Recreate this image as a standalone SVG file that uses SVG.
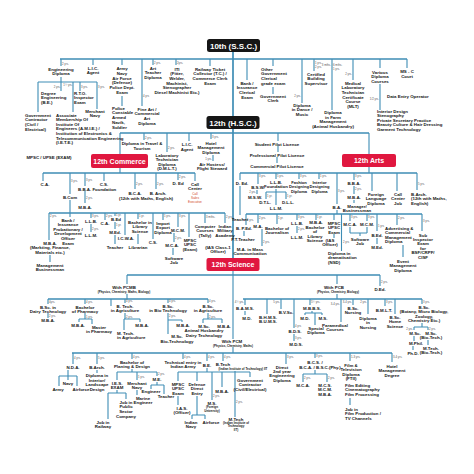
<svg xmlns="http://www.w3.org/2000/svg" width="474" height="474" viewBox="0 0 474 474">
<style>
text{font-family:"Liberation Sans",Arial,sans-serif}
.c{fill:none;stroke:#3f8db5;stroke-width:1.1}
.k{stroke-width:1.7}
.n{font-size:4.4px;font-weight:bold;fill:#141414;text-anchor:middle}
.s{text-anchor:start}
.y{font-size:2.8px;fill:#555;text-anchor:start}
.e{text-anchor:end}
.m{font-size:3px}
.nn{font-size:4.1px}
.r{fill:#d2461e;font-size:3.2px;font-weight:normal}
.bt{fill:#fff;font-weight:bold;text-anchor:middle}
.dk{fill:#161616}
.rd{fill:#e0173f}
</style>
<rect width="474" height="474" fill="#fff"/>
<g id="connectors">
<path class="c k" d="M60,59H407M233,52V116M120,133H369M233,129V258M43,173H195M240,173H417M49,213H225M246,214H422M127,275H380M48,299H208M243,299H422M72,353H392"/>
<path class="c" d="M61,59V66M61,77V82M38,82H97M38,82V112M61,82V91M73,82V112M80,82V91M97,82V109M93,59V65M122,59V65M122,96V106M142,59V106M153,59V65M176,59V65M210,59V66M247,59V80M273,59V66M273,87V94M302,59V103M314,59V71M332,59V110M353,59V80M380,59V68M380,84V110M407,59V68"/>
<path class="c" d="M120,133V154M144,133V140M167,133V152M189,133V141M211,133V139M213,155V161M278,133V141M278,146V152M277,157V163M369,133V154"/>
<path class="c" d="M120,168V173M43,173V181M70,173V194M85,173V186M85,191V203M104,173V181M135,173V189M156,173V189M178,173V180M195,173V181M70,200V213M49,213V240M50,255V262M70,213V217M91,213V218M91,224V232M105,213V220M115,213V216M115,222V229M115,235V244M125,213V235M138,213V219M138,234V244M153,213V239M163,213V220M178,213V227M174,233V242M173,248V255M189,213V237M205,213V223M225,213V223"/>
<path class="c" d="M369,167V173M240,173V180M240,186V215M258,173V184M257,190V194M276,173V179M276,189V205M266,192H286M266,192V199M286,192V199M299,173V179M319,173V179M337,173V204M337,210V214M354,173V180M354,186V194M354,200V203M372,173V191M397,173V191M417,173V190"/>
<path class="c" d="M246,214V225M244,231V236M258,214V223M262,229V246M277,214V224M297,214V220M297,226V233M316,214V220M334,214V220M334,234V238M341.5,214V251M350,214V221M367,214V221M350,227V233M367,227V233M350,233H367M360,233V236M377,214V231M377,238V244M397,214V225M403,245V257M422,214V231"/>
<path class="c" d="M233,271V339M127,275V284M127,294V299M380,275V286M337,275V284M337,294V299"/>
<path class="c" d="M48,299V304M48,313V318M85,299V304M85,313V319M79,319H92M79,319V322M92,319V324M111,299V306M125,299V303M125,313V319M124,319H140M124,319V330M140,319V322M168,299V303M168,313V334M168,320H182M182,320V322M208,299V303M208,313V319M203,319H222M203,319V323M222,319V323"/>
<path class="c" d="M245,299V305M245,311V315M267,299V314M281,299V309M294,299V328M294,334V341M310,299V305M312,311V313M305,313H322M305,313V315M322,313V315M315,313V325M341,299V322M353,299V305M368,299V314M385,299V306M395,299V314M422,299V304M422,323V327M414,327H428M414,327V330M428,327V330M414,336V341M428,340V345M413,346V350"/>
<path class="c" d="M233,347V353M73,353V364M68,370V380M59,376H77M59,376V386M77,376V386M97,353V364M97,370V373M132,353V359M132,369V372M117,372H157M117,372V380M117,390V393M108,393H126M108,393V419M126,393V399M137,372V380M137,390V395M157,372V376M157,382V385M151,385H164M151,385V389M164,385V394M183,353V359M207,353V361M207,368V372M178,372H250M178,372V381M178,396V405M197,372V381M197,396V415M192,415H205M192,415V419M205,415V419M212,372V400M222,372V387M250,372V377M223,353V361M235,371V417M286,353V364M315,353V358M315,370V374M303,374H327M303,374V382M327,374V382M350,353V361M350,398V405M392,353V362"/>
<g class="y">
<text x="62" y="64.5">2 yrs.</text><text x="60.5" y="88" class="y e">2 yrs.</text><text x="72.5" y="86" class="y e">1½ yrs.</text><text x="81" y="87.5">3 yrs.</text><text x="98" y="88">3 yrs.</text>
<text x="143" y="97">4 yrs</text><text x="154" y="64">2 yrs.</text><text x="177" y="64">2yrs.</text><text x="301" y="97" class="y e">2 yrs.</text>
<text x="315" y="64">1 yrs.</text><text x="315" y="67.5">2 yrs.</text><text x="331" y="66" class="y e">3 mths.</text><text x="333" y="66">6 mths.</text><text x="333" y="69.5">1 yrs.</text>
<text x="352" y="75" class="y e">2 yrs.</text><text x="379" y="100" class="y e">1/2 yrs.</text>
<text x="145" y="138.5">2 yrs.</text><text x="168" y="149">2 yrs.</text><text x="212" y="138">3 yrs.</text><text x="212" y="160" class="y e">1 yrs.</text>
<text x="71" y="182">3 yrs.</text><text x="86" y="181">3 yrs</text><text x="86" y="199">2 yrs.</text><text x="136" y="185">2 yrs.</text><text x="157" y="185">2 yrs.</text><text x="179" y="178">2 yrs.</text>
<text x="50" y="217">2 yrs.</text><text x="92" y="216.5">3 yrs.</text><text x="92" y="229.5">2 yrs.</text><text x="106" y="216.5">2 yrs</text><text x="116" y="215.5">1 yr.</text><text x="116" y="226">1 yr.</text><text x="139" y="217">1 yr.</text><text x="164" y="217">1 yrs.</text><text x="179" y="217">3 yrs.</text><text x="175" y="239">2 yrs.</text><text x="206" y="218">3 mths.</text><text x="226" y="218">2 yrs.</text>
<text x="259" y="177">3 yrs.</text><text x="256" y="193" class="y e">2 yrs.</text><text x="277" y="177">5 yrs.</text><text x="267" y="196.5">1 yr.</text><text x="287" y="196.5">1 yr.</text><text x="300" y="177">3 yrs.</text><text x="320" y="177">1 yrs.</text><text x="338" y="192">3 yrs.</text><text x="355" y="177">3 yrs.</text><text x="355" y="190">2 yrs.</text><text x="418" y="185">5 yrs.</text>
<text x="247" y="221">1 yrs.</text><text x="259" y="219">2 yrs.</text><text x="263" y="243">2 yrs.</text><text x="278" y="219">1 yr.</text><text x="298" y="218">3 yrs.</text><text x="298" y="230">2 yrs.</text><text x="317" y="218">1 yr.</text><text x="343" y="243">2 yrs</text><text x="351" y="218">3 yrs.</text><text x="368" y="218">3 yrs.</text><text x="378" y="227">1 yrs</text><text x="398" y="219">2 yrs.</text><text x="423" y="222">3 yrs.</text>
<text x="49" y="302.5">4yrs.</text><text x="49" y="316.5">2 yrs.</text><text x="86" y="302.5">4 yrs.</text><text x="86" y="317.5">1 yrs.</text><text x="126" y="302">4 yrs.</text><text x="126" y="317.5">2 yrs.</text><text x="169" y="302">4 yrs.</text><text x="169" y="317">2 yrs.</text><text x="209" y="302">4 yrs.</text><text x="209" y="317.5">2 yrs.</text><text x="381" y="283">2 yrs.</text>
<text x="244" y="303" class="y e">4½ yrs.</text><text x="280" y="303" class="y e">5 yrs.</text><text x="295" y="326.5">4 yrs</text><text x="295" y="338.5">3 yrs.</text><text x="311" y="303">5½ yrs.</text><text x="340" y="305" class="y e">3-4 yrs.</text><text x="352" y="303" class="y e">3-4 yrs.</text><text x="367" y="303" class="y e">2 yrs.</text><text x="386" y="303">3 yrs.</text><text x="423" y="302.5">3 yrs.</text><text x="413" y="330" class="y e">2 yrs.</text><text x="429" y="330">2 yrs.</text>
<text x="74" y="358.5">4 yrs.</text><text x="98" y="358.5">5 yrs.</text><text x="133" y="357.5">4 yrs.</text><text x="138" y="377.5">1 yrs.</text><text x="158" y="375">2 yrs.</text><text x="184" y="357.5">4 yrs.</text><text x="208" y="357.5">4 yrs.</text><text x="224" y="357.5">4 yrs.</text><text x="213" y="397">2 yrs.</text><text x="236" y="403">2 yrs.</text><text x="287" y="357.5">3 yrs.</text><text x="316" y="357">3 yrs.</text><text x="304" y="379">2 yrs.</text><text x="328" y="379">2 yrs.</text><text x="351" y="358">1-3 yrs.</text><text x="393" y="358">3-4 yrs.</text>
</g>
</g>
<g id="n10th"><rect class="dk" x="207" y="39" width="53" height="13" rx="2.5"/><text class="bt" x="233.5" y="48.6" font-size="8">10th (S.S.C.)</text></g>
<g id="n12hsc"><rect class="dk" x="206.5" y="116" width="53" height="13" rx="2.5"/><text class="bt" x="233" y="125.6" font-size="8">12th (H.S.C.)</text></g>
<g id="ncommerce"><rect class="rd" x="91" y="154" width="57" height="14" rx="2"/><text class="bt" x="119.5" y="163.5" font-size="7">12th Commerce</text></g>
<g id="narts"><rect class="rd" x="342" y="154" width="54" height="13" rx="2"/><text class="bt" x="369" y="163" font-size="7">12th Arts</text></g>
<g id="nscience"><rect class="rd" x="206.5" y="258" width="53" height="13" rx="2"/><text class="bt" x="233" y="267" font-size="7">12th Science</text></g>

<g id="engdip"><text class="n" x="61" y="70.5"><tspan x="61">Engineering</tspan><tspan x="61" dy="4.6">Diploma</tspan></text></g>
<g id="govcon1"><text class="n s" x="25" y="116.5"><tspan x="25">Government</tspan><tspan x="25" dy="4.9">Contractor</tspan><tspan x="25" dy="4.9">(Civil /</tspan><tspan x="25" dy="4.9">Electrical)</tspan></text></g>
<g id="degeng"><text class="n s" x="41" y="94.5"><tspan x="41">Degree</tspan><tspan x="41" dy="4.8">Engineering</tspan><tspan x="41" dy="4.8">(B.E.)</tspan></text></g>
<g id="amie"><text class="n s" x="56" y="116.5"><tspan x="56">Associate</tspan><tspan x="56" dy="4.6">Membership Of</tspan><tspan x="56" dy="4.6">Institute Of</tspan><tspan x="56" dy="4.6">Engineers (A.M.I.E.) /</tspan><tspan x="56" dy="4.6">Institution of Electronics &amp;</tspan><tspan x="56" dy="4.6">Telecommunication Engineering</tspan><tspan x="56" dy="4.6">(I.E.T.E.)</tspan></text></g>
<g id="rto"><text class="n s" x="74" y="94.5"><tspan x="74">R.T.O.</tspan><tspan x="74" dy="4.8">Inspector</tspan><tspan x="74" dy="4.8">Exam</tspan></text></g>
<g id="mnavy1"><text class="n" x="95" y="112.5"><tspan x="95">Merchant</tspan><tspan x="95" dy="4.8">Navy</tspan></text></g>
<g id="lic1"><text class="n" x="93" y="69.5"><tspan x="93">L.I.C.</tspan><tspan x="93" dy="4.8">Agent</tspan></text></g>
<g id="army1"><text class="n" x="122" y="70"><tspan x="122">Army</tspan><tspan x="122" dy="4.8">Navy</tspan><tspan x="122" dy="4.8">Air Force</tspan><tspan x="122" dy="4.8">(Defence)</tspan><tspan x="122" dy="4.8">Police Dept.</tspan><tspan x="122" dy="4.8">Exam</tspan></text></g>
<g id="police"><text class="n s" x="112" y="109.5"><tspan x="112">Police</tspan><tspan x="112" dy="4.9">Constable</tspan><tspan x="112" dy="4.9">Armed</tspan><tspan x="112" dy="4.9">Navik,</tspan><tspan x="112" dy="4.9">Soldier</tspan></text></g>
<g id="fineart"><text class="n" x="147" y="110.5"><tspan x="147">Fine Art /</tspan><tspan x="147" dy="4.9">Commercial</tspan><tspan x="147" dy="4.9">Art</tspan><tspan x="147" dy="4.9">Diploma</tspan></text></g>
<g id="artteacher"><text class="n" x="153" y="69.5"><tspan x="153">Art</tspan><tspan x="153" dy="4.8">Teacher</tspan><tspan x="153" dy="4.8">Diploma</tspan></text></g>
<g id="iti"><text class="n" x="177" y="70.5"><tspan x="177">ITI</tspan><tspan x="177" dy="4.7">(Fitter,</tspan><tspan x="177" dy="4.7">Welder,</tspan><tspan x="177" dy="4.7">Machinist,</tspan><tspan x="177" dy="4.7">Stenographer</tspan><tspan x="177" dy="4.7">Diesel Machinist Etc.)</tspan></text></g>
<g id="railway"><text class="n" x="210" y="70.5"><tspan x="210">Railway Ticket</tspan><tspan x="210" dy="4.7">Collector (T.C.) /</tspan><tspan x="210" dy="4.7">Commerce Clerk</tspan><tspan x="210" dy="4.7">Exam</tspan></text></g>
<g id="bank1"><text class="n" x="247" y="84.5"><tspan x="247">Bank /</tspan><tspan x="247" dy="4.7">Insurance</tspan><tspan x="247" dy="4.7">Clerical</tspan><tspan x="247" dy="4.7">Exam</tspan></text></g>
<g id="othgov"><text class="n s" x="261" y="70.5"><tspan x="261">Other</tspan><tspan x="261" dy="4.8">Government</tspan><tspan x="261" dy="4.8">Clerical</tspan><tspan x="261" dy="4.8">grade exam</tspan></text></g>
<g id="govclerk"><text class="n" x="273" y="97.5"><tspan x="273">Government</tspan><tspan x="273" dy="4.7">Clerk</tspan></text></g>
<g id="dance"><text class="n" x="302" y="106.5"><tspan x="302">Diploma</tspan><tspan x="302" dy="4.8">in Dance /</tspan><tspan x="302" dy="4.8">Music</tspan></text></g>
<g id="certified"><text class="n" x="316" y="75.5"><tspan x="316">Certified</tspan><tspan x="316" dy="4.6">Building</tspan><tspan x="316" dy="4.6">Supervisor</tspan></text></g>
<g id="farm"><text class="n" x="333" y="114"><tspan x="333">Diploma</tspan><tspan x="333" dy="4.6">in Farm</tspan><tspan x="333" dy="4.6">Management</tspan><tspan x="333" dy="4.6">(Animal Husbandry)</tspan></text></g>
<g id="mlt"><text class="n" x="353" y="84.5"><tspan x="353">Medical</tspan><tspan x="353" dy="4.7">Laboratory</tspan><tspan x="353" dy="4.7">Technician</tspan><tspan x="353" dy="4.7">Certificate</tspan><tspan x="353" dy="4.7">Course</tspan><tspan x="353" dy="4.7">(MLT)</tspan></text></g>
<g id="various"><text class="n" x="380" y="73.5"><tspan x="380">Various</tspan><tspan x="380" dy="4.7">Diploma</tspan><tspan x="380" dy="4.7">Courses</tspan></text></g>
<g id="dataentry"><text class="n s" x="387" y="97.5">Data Entry Operator</text></g>
<g id="diplist"><text class="n s" x="377" y="112.5"><tspan x="377">Interior Design</tspan><tspan x="377" dy="4.6">Stenography</tspan><tspan x="377" dy="4.6">Private Secretary Practice</tspan><tspan x="377" dy="4.6">Beauty Culture &amp; Hair Dressing</tspan><tspan x="377" dy="4.6">Garment Technology</tspan></text></g>
<g id="msc"><text class="n" x="407" y="73"><tspan x="407">MS - C</tspan><tspan x="407" dy="4.7">Court</tspan></text></g>

<g id="mpsc1"><text class="n" x="49" y="158.5">MPSC / UPSE (EXAM)</text></g>
<g id="travel"><text class="n" x="142" y="145"><tspan x="142">Diploma in Travel &amp;</tspan><tspan x="142" dy="5">Tourism</tspan></text></g>
<g id="dmlt"><text class="n" x="167" y="156.5"><tspan x="167">Laboratory</tspan><tspan x="167" dy="4.6">Technician</tspan><tspan x="167" dy="4.6">Diploma</tspan><tspan x="167" dy="4.6">(D.M.L.T.)</tspan></text></g>
<g id="lic2"><text class="n" x="187" y="146"><tspan x="187">L.I.C.</tspan><tspan x="187" dy="4.8">Agent</tspan></text></g>
<g id="hotel1"><text class="n" x="211" y="144.5"><tspan x="211">Hotel</tspan><tspan x="211" dy="4.6">Management</tspan><tspan x="211" dy="4.6">Diploma</tspan></text></g>
<g id="airhost"><text class="n" x="212" y="165.5"><tspan x="212">Air Hostess/</tspan><tspan x="212" dy="4.7">Flight Steward</tspan></text></g>
<g id="pilot1"><text class="n" x="277" y="145.5">Student Pilot Licence</text></g>
<g id="pilot2"><text class="n" x="277" y="156.5">Professional Pilot Licence</text></g>
<g id="pilot3"><text class="n" x="277" y="167.5">Commercial Pilot Licence</text></g>

<g id="ca1"><text class="n" x="45" y="185.5">C.A.</text></g>
<g id="bcom"><text class="n" x="70" y="198.5">B.Com</text></g>
<g id="bba1"><text class="n s" x="78" y="190.5">B.B.A. Foundation</text></g>
<g id="cs1"><text class="n" x="104" y="185.5">C.S.</text></g>
<g id="mba1"><text class="n" x="85" y="208.5">M.B.A.</text></g>
<g id="bca1"><text class="n" x="135" y="194.5">B.C.A.</text></g>
<g id="barch1"><text class="n" x="158" y="194.5">B. Arch.</text><text class="n" x="146" y="199.5">(12th with Maths, English)</text></g>
<g id="ded1"><text class="n" x="178" y="184.5">D. Ed</text></g>
<g id="callc1"><text class="n" x="195" y="185.5"><tspan x="195">Call</tspan><tspan x="195" dy="4.5">Center</tspan></text><text class="n r" x="195" y="194.5"><tspan x="195">Call</tspan><tspan x="195" dy="4">Sales</tspan><tspan x="195" dy="4">Executive</tspan></text></g>
<g id="mbamkt"><text class="n" x="50" y="244.5"><tspan x="50">M.B.A.</tspan><tspan x="50" dy="4.6">(Markting, Finance,</tspan><tspan x="50" dy="4.6">Materials etc.)</tspan></text></g>
<g id="mgmt1"><text class="n" x="50" y="266.5"><tspan x="50">Management</tspan><tspan x="50" dy="4.7">Businessman</tspan></text></g>
<g id="bankpo"><text class="n" x="68" y="221.5"><tspan x="68">Bank /</tspan><tspan x="68" dy="4.6">Insurance</tspan><tspan x="68" dy="4.6">Probationary /</tspan><tspan x="68" dy="4.6">Development</tspan><tspan x="68" dy="4.6">Officer</tspan><tspan x="68" dy="4.6">Exam</tspan></text></g>
<g id="llb1"><text class="n" x="91" y="222.5">L.L.B.</text></g>
<g id="llm1"><text class="n" x="91" y="236.5">L.L.M.</text></g>
<g id="ca2"><text class="n" x="105" y="224.5">C.A.</text></g>
<g id="bed1"><text class="n" x="116" y="220.5">B.Ed</text></g>
<g id="med1"><text class="n" x="115" y="233.5">M.Ed.</text></g>
<g id="teacher1"><text class="n" x="115" y="248.5">Teacher</text></g>
<g id="icwa"><text class="n" x="126" y="239.5">I.C.W.A.</text></g>
<g id="blib1"><text class="n" x="140" y="223.5"><tspan x="140">Bachelor in</tspan><tspan x="140" dy="4.6">Library</tspan><tspan x="140" dy="4.6">Science</tspan></text></g>
<g id="librarian"><text class="n" x="138" y="248.5">Librarian</text></g>
<g id="cs2"><text class="n" x="153" y="243.5">C.S.</text></g>
<g id="impexp"><text class="n" x="163" y="224.5"><tspan x="163">Import</tspan><tspan x="163" dy="4.6">Export</tspan><tspan x="163" dy="4.6">Diploma</tspan></text></g>
<g id="mcm1"><text class="n" x="178" y="231.5">M.C.M.</text></g>
<g id="mca1"><text class="n" x="172" y="246.5">M.C.A.</text></g>
<g id="swjob1"><text class="n" x="174" y="259.5"><tspan x="174">Software</tspan><tspan x="174" dy="4.5">Job</tspan></text></g>
<g id="mpsc2"><text class="n" x="190" y="241.5"><tspan x="190">MPSC</tspan><tspan x="190" dy="4.6">UPSC</tspan><tspan x="190" dy="4.6">(Exam)</tspan></text></g>
<g id="ias1"><text class="n" x="218" y="248.5"><tspan x="218">(IAS Class-1</tspan><tspan x="218" dy="4.6">Officer)</tspan></text></g>
<g id="computer"><text class="n" x="205" y="227.5"><tspan x="205">Computer</tspan><tspan x="205" dy="4.6">Courses</tspan><tspan x="205" dy="4.6">(Tally)</tspan></text></g>
<g id="ima"><text class="n" x="225" y="227.5"><tspan x="225">Indian</tspan><tspan x="225" dy="4.6">Military</tspan><tspan x="225" dy="4.6">Academy</tspan></text></g>

<g id="ded2"><text class="n" x="242" y="184.5">D. Ed.</text></g>
<g id="teacher2"><text class="n" x="240" y="221">Teacher</text></g>
<g id="bsw"><text class="n" x="258" y="188.5">B.S.W.</text></g>
<g id="msw"><text class="n" x="255" y="198.5">M.S.W.</text></g>
<g id="llbf"><text class="n" x="276" y="183.5"><tspan x="276">L.L.B.</tspan><tspan x="276" dy="4.5">Foundation</tspan></text></g>
<g id="dtl"><text class="n" x="265" y="203.5">D.T.L.</text></g>
<g id="dll"><text class="n" x="288" y="203.5">D.L.L.</text></g>
<g id="llm2"><text class="n" x="276" y="209.5">L.L.M.</text></g>
<g id="fashion"><text class="n nn" x="299" y="183.5"><tspan x="299">Fashion</tspan><tspan x="299" dy="4.6">Designing</tspan><tspan x="299" dy="4.6">Diploma</tspan></text></g>
<g id="interior"><text class="n nn" x="319.5" y="183.5"><tspan x="319.5">Interior</tspan><tspan x="319.5" dy="4.6">Designing</tspan><tspan x="319.5" dy="4.6">Diploma</tspan></text></g>
<g id="ba"><text class="n" x="337" y="208.5">B.A.</text></g>
<g id="bba2"><text class="n" x="354" y="184.5">B.B.A.</text></g>
<g id="mba2"><text class="n" x="354" y="198.5">M.B.A.</text></g>
<g id="manager"><text class="n" x="357" y="207.5"><tspan x="357">Manager/</tspan><tspan x="357" dy="4.5">Businessman</tspan></text></g>
<g id="foreign"><text class="n" x="376" y="195.5"><tspan x="376">Foreign</tspan><tspan x="376" dy="4.6">Language</tspan><tspan x="376" dy="4.6">Diploma</tspan></text></g>
<g id="callcj"><text class="n" x="398" y="195.5"><tspan x="398">Call</tspan><tspan x="398" dy="4.6">Center</tspan><tspan x="398" dy="4.6">Job</tspan></text></g>
<g id="barch2"><text class="n s" x="411" y="195.5"><tspan x="411">B.Arch.</tspan><tspan x="411" dy="4.6">(12th with Maths,</tspan><tspan x="411" dy="4.6">English)</tspan></text></g>
<g id="bped"><text class="n" x="244" y="229.5">B. P.Ed.</text></g>
<g id="ptteacher"><text class="n" x="243" y="240.5">P.T.Teacher</text></g>
<g id="ma"><text class="n" x="258" y="227.5">M.A.</text></g>
<g id="massc"><text class="n" x="250" y="250.5"><tspan x="250">M.A. in Mass</tspan><tspan x="250" dy="4.5">Communication</tspan></text></g>
<g id="journ"><text class="n" x="277" y="229.5"><tspan x="277">Bachelor of</tspan><tspan x="277" dy="4.6">Journalism</tspan></text></g>
<g id="llb2"><text class="n" x="297" y="224.5">L.L.B.</text></g>
<g id="llm3"><text class="n" x="297" y="238.5">L.L.M.</text></g>
<g id="mba3"><text class="n" x="316" y="223.5">M.B.A.</text></g>
<g id="blib2"><text class="n" x="315" y="228.5"><tspan x="315">Bachelor</tspan><tspan x="315" dy="4.5">of</tspan><tspan x="315" dy="4.5">Library</tspan><tspan x="315" dy="4.5">Science</tspan></text></g>
<g id="mpsc3"><text class="n" x="334" y="224.5"><tspan x="334">MPSC</tspan><tspan x="334" dy="4.6">UPSC</tspan><tspan x="334" dy="4.6">Exam</tspan></text></g>
<g id="ias2"><text class="n" x="330" y="241.5"><tspan x="330">(IAS</tspan><tspan x="330" dy="4.6">Officer)</tspan></text></g>
<g id="nsd"><text class="n s" x="328" y="254.5"><tspan x="328">Diploma in</tspan><tspan x="328" dy="4.5">dramatisation</tspan><tspan x="328" dy="4.5">(NSD)</tspan></text></g>
<g id="mca2"><text class="n" x="350" y="225.5">M.C.A.</text></g>
<g id="mcm2"><text class="n" x="367" y="225.5">M.C.M.</text></g>
<g id="swjob2"><text class="n" x="360" y="240.5"><tspan x="360">Software</tspan><tspan x="360" dy="4.5">Job</tspan></text></g>
<g id="bed2"><text class="n" x="377" y="236.5">B.Ed.</text></g>
<g id="med2"><text class="n" x="377" y="248.5">M.Ed.</text></g>
<g id="advert"><text class="n s" x="385" y="229.5"><tspan x="385">Advertising &amp;</tspan><tspan x="385" dy="4.6">Commercial</tspan><tspan x="385" dy="4.6">Management</tspan><tspan x="385" dy="4.6">Diploma</tspan></text></g>
<g id="event"><text class="n" x="403" y="262.5"><tspan x="403">Event</tspan><tspan x="403" dy="4.6">Management</tspan><tspan x="403" dy="4.6">Diploma</tspan></text></g>
<g id="subins"><text class="n" x="423" y="236.5"><tspan x="423">Sub</tspan><tspan x="423" dy="4.4">Inspector</tspan><tspan x="423" dy="4.4">Exam</tspan><tspan x="423" dy="4.4">for</tspan><tspan x="423" dy="4.4">BSF/CRPF/</tspan><tspan x="423" dy="4.4">CISF</tspan></text></g>

<g id="pcmb"><text class="n" x="124" y="288.5">With PCMB</text><text class="n m" x="124" y="293">(Physics, Chemistry, Maths, Biology)</text></g>
<g id="dairy"><text class="n" x="48" y="308.5"><tspan x="48">B.Sc. in</tspan><tspan x="48" dy="4.5">Dairy Technology</tspan></text></g>
<g id="mba4"><text class="n" x="48" y="322">M.B.A.</text></g>
<g id="pharm"><text class="n" x="85" y="308.5"><tspan x="85">Bachelor</tspan><tspan x="85" dy="4.5">of Pharmacy</tspan></text></g>
<g id="mba5"><text class="n" x="78" y="326.5">M.B.A.</text></g>
<g id="mpharm"><text class="n" x="99" y="328.5"><tspan x="99">Master</tspan><tspan x="99" dy="4.5">in Pharmacy</tspan></text></g>
<g id="btagri"><text class="n" x="125" y="307.5"><tspan x="125">B. Tech.</tspan><tspan x="125" dy="4.5">in Agriculture</tspan></text></g>
<g id="mtagri"><text class="n s" x="117" y="334.5"><tspan x="117">M. Tech.</tspan><tspan x="117" dy="4.6">in Agriculture</tspan></text></g>
<g id="mba6"><text class="n" x="142" y="326.5">M.B.A.</text></g>
<g id="biotech"><text class="n" x="168" y="307.5"><tspan x="168">B.Sc.</tspan><tspan x="168" dy="4.5">in Bio Technology</tspan></text></g>
<g id="mba7"><text class="n" x="183" y="326.5">M.B.A.</text></g>
<g id="mscbio"><text class="n" x="177" y="338"><tspan x="177">M.Sc.</tspan><tspan x="177" dy="4.5">Bio-Technology</tspan></text></g>
<g id="bscagri"><text class="n" x="208" y="307.5"><tspan x="208">B.Sc.</tspan><tspan x="208" dy="4.5">in Agriculture</tspan></text></g>
<g id="mscanim"><text class="n" x="204" y="327.5"><tspan x="204">M.Sc.</tspan><tspan x="204" dy="4.5">Animal Husbandry</tspan><tspan x="204" dy="4.5">Dairy Technology</tspan></text></g>
<g id="mba8"><text class="n" x="224" y="327.5">M.B.A.</text></g>
<g id="pcm"><text class="n" x="232" y="342.5">With PCM</text><text class="n m" x="233" y="346.6">(Physics, Chemistry, Maths)</text></g>

<g id="pcb"><text class="n" x="334" y="288.5">With PCB</text><text class="n m" x="338" y="293">(Physics, Chemistry, Biology)</text></g>
<g id="ded3"><text class="n" x="380" y="290.5">D.Ed.</text></g>
<g id="bams"><text class="n" x="245" y="309.5">B.A.M.S.</text></g>
<g id="md1"><text class="n" x="247" y="319.5">M.D.</text></g>
<g id="bhms"><text class="n" x="268" y="318.5"><tspan x="268">B.H.M.S.</tspan><tspan x="268" dy="4.5">B.U.M.S.</tspan></text></g>
<g id="bvsc"><text class="n" x="286" y="313.5">B.V.Sc.</text></g>
<g id="bds"><text class="n" x="295" y="332.5">B.D.S.</text></g>
<g id="mds"><text class="n" x="296" y="345.5">M.D.S.</text></g>
<g id="mbbs"><text class="n" x="312" y="309.5">M.B.B.S.</text></g>
<g id="md2"><text class="n" x="305" y="319.5">M.D.</text></g>
<g id="ms1"><text class="n" x="323" y="319.5">M.S.</text></g>
<g id="spdip"><text class="n" x="316" y="329.5"><tspan x="316">Special</tspan><tspan x="316" dy="4.5">Diploma</tspan></text></g>
<g id="para"><text class="n" x="335" y="326.5"><tspan x="335">Paramedical</tspan><tspan x="335" dy="4.5">Courses</tspan></text></g>
<g id="bscn"><text class="n" x="353" y="309.5"><tspan x="353">B.Sc.</tspan><tspan x="353" dy="4.5">Nursing</tspan></text></g>
<g id="dipn"><text class="n" x="368" y="319.5"><tspan x="368">Diploma</tspan><tspan x="368" dy="4.8">in</tspan><tspan x="368" dy="4.8">Nursing</tspan></text></g>
<g id="bmlt"><text class="n" x="384" y="311.5">B.M.L.T.</text></g>
<g id="home"><text class="n" x="395" y="318.5"><tspan x="395">B.Sc.</tspan><tspan x="395" dy="4.8">Home</tspan><tspan x="395" dy="4.8">Science</tspan></text></g>
<g id="bscbot"><text class="n" x="424" y="308.5"><tspan x="424">B.Sc.</tspan><tspan x="424" dy="4.6">(Botany, Micro Biology,</tspan><tspan x="424" dy="4.6">Zoology,</tspan><tspan x="424" dy="4.6">Chemistry Etc.)</tspan></text></g>
<g id="msc1"><text class="n" x="415" y="334.5">M.Sc.</text></g>
<g id="msc2"><text class="n" x="431" y="334.5"><tspan x="431">M.Sc.</tspan><tspan x="431" dy="4.5">(Bio-Tech.)</tspan></text></g>
<g id="mphil"><text class="n" x="416" y="345">M.Phil.</text></g>
<g id="mtech2"><text class="n" x="431" y="349.5"><tspan x="431">M.Tech.</tspan><tspan x="431" dy="4.5">(Bio-Tech.)</tspan></text></g>
<g id="phd"><text class="n" x="413" y="354.5">Ph.D.</text></g>

<g id="nda"><text class="n" x="73" y="368.5">N.D.A.</text></g>
<g id="navy2"><text class="n" x="68" y="384.5">Navy</text></g>
<g id="army2"><text class="n" x="58" y="390.5">Army</text></g>
<g id="airforce1"><text class="n" x="81" y="390.5">Airforce</text></g>
<g id="barch3"><text class="n" x="97" y="368.5">B.Arch.</text></g>
<g id="dipint"><text class="n" x="97" y="377"><tspan x="97">Diploma in</tspan><tspan x="97" dy="4.5">Interior/</tspan><tspan x="97" dy="4.5">Landscape</tspan><tspan x="97" dy="4.5">Design</tspan></text></g>
<g id="bpd"><text class="n" x="132" y="363.5"><tspan x="132">Bachelor of</tspan><tspan x="132" dy="4.6">Planing &amp; Design</tspan></text></g>
<g id="ies"><text class="n" x="117" y="384.5"><tspan x="117">I.E.S.</tspan><tspan x="117" dy="4.6">EXAM</tspan></text></g>
<g id="railjob"><text class="n" x="103" y="423.5"><tspan x="103">Job in</tspan><tspan x="103" dy="4.6">Railway</tspan></text></g>
<g id="psu"><text class="n" x="126" y="403.5"><tspan x="126">Job in</tspan><tspan x="126" dy="4.8">Public</tspan><tspan x="126" dy="4.8">Sector</tspan><tspan x="126" dy="4.8">Company</tspan></text></g>
<g id="mnavy2"><text class="n" x="137" y="384.5"><tspan x="137">Merchant</tspan><tspan x="137" dy="4.6">Navy</tspan></text></g>
<g id="marine"><text class="n" x="143" y="399.5"><tspan x="143">Marine</tspan><tspan x="143" dy="4.6">Engineer</tspan></text></g>
<g id="me"><text class="n" x="157" y="380.5">M.E.</text></g>
<g id="engineer"><text class="n" x="151" y="393">Engineer</text></g>
<g id="teacher3"><text class="n" x="166" y="398">Teacher</text></g>
<g id="techentry"><text class="n" x="183" y="363.5"><tspan x="183">Technical entry in</tspan><tspan x="183" dy="4.6">Indian Army</tspan></text></g>
<g id="be"><text class="n" x="207" y="366.5">B.E.</text></g>
<g id="btech"><text class="n" x="223" y="366">B.Tech</text><text class="n m" x="243" y="370" font-size="2.6">(Indian Institute of Technology) IIT</text></g>
<g id="mpsc4"><text class="n" x="178" y="385.5"><tspan x="178">MPSC</tspan><tspan x="178" dy="4.6">UPSC</tspan><tspan x="178" dy="4.6">Exam</tspan></text></g>
<g id="ias3"><text class="n" x="182" y="409.5"><tspan x="182">I.A.S.</tspan><tspan x="182" dy="4.6">(Officer)</tspan></text></g>
<g id="defence"><text class="n" x="197" y="385.5"><tspan x="197">Defence</tspan><tspan x="197" dy="4.6">Direct</tspan><tspan x="197" dy="4.6">Entry</tspan></text></g>
<g id="inavy"><text class="n" x="191" y="423.5"><tspan x="191">Indian</tspan><tspan x="191" dy="4.6">Navy</tspan></text></g>
<g id="airforce2"><text class="n" x="211" y="423.5">Airforce</text></g>
<g id="ms2"><text class="n" x="212" y="404.5">M.S.</text><text class="n m" x="212" y="408.3"><tspan x="212">(Foreign</tspan><tspan x="212" dy="3.5">University)</tspan></text></g>
<g id="mba9"><text class="n" x="222" y="392.5">M.B.A.</text></g>
<g id="govcon2"><text class="n" x="250" y="381.5"><tspan x="250">Government</tspan><tspan x="250" dy="4.6">Contractor</tspan><tspan x="250" dy="4.6">(Civil/Electrical)</tspan></text></g>
<g id="mtech1"><text class="n" x="236" y="420.5">M.Tech</text><text class="n m" x="236" y="424"><tspan x="236">(Indian Institute of</tspan><tspan x="236" dy="3.3">Technology</tspan><tspan x="236" dy="3.3">IIT)</tspan></text></g>
<g id="direct"><text class="n" x="282" y="368.5"><tspan x="282">Direct</tspan><tspan x="282" dy="4.4">2nd year</tspan><tspan x="282" dy="4.4">Engineering</tspan><tspan x="282" dy="4.4">Diploma</tspan></text></g>
<g id="bcs"><text class="n" x="315" y="363.5">B.C.S. /</text><text class="n" x="320" y="368.5">B.C.A. / B.S.C.(Phy.)</text></g>
<g id="mca3"><text class="n" x="303" y="386.5">M.C.A.</text></g>
<g id="mcs"><text class="n" x="325" y="386.5"><tspan x="325">M.C.S.</tspan><tspan x="325" dy="4.6">M.C.M.</tspan><tspan x="325" dy="4.6">M.B.A.</tspan></text></g>
<g id="film"><text class="n" x="351" y="366.5"><tspan x="351">Film &amp;</tspan><tspan x="351" dy="4.6">Television</tspan><tspan x="351" dy="4.6">Diploma</tspan><tspan x="351" dy="4.6">(FTII)</tspan></text><text class="n s" x="345" y="386.5"><tspan x="345">Film Editing</tspan><tspan x="345" dy="4.8">Cinematography</tspan><tspan x="345" dy="4.8">Film Processing</tspan></text></g>
<g id="filmjob"><text class="n s" x="345" y="410.5"><tspan x="345">Job in</tspan><tspan x="345" dy="4.6">Film Production /</tspan><tspan x="345" dy="4.6">TV Channels</tspan></text></g>
<g id="hotel2"><text class="n" x="392" y="367.5"><tspan x="392">Hotel</tspan><tspan x="392" dy="4.6">Management</tspan><tspan x="392" dy="4.6">Degree</tspan></text></g>
</svg>
